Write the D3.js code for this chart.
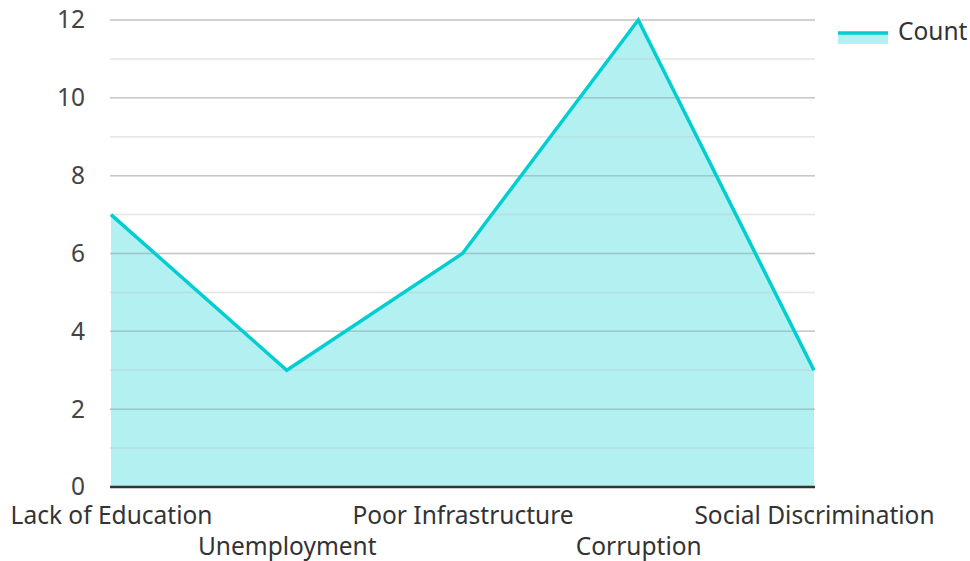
<!DOCTYPE html>
<html>
<head>
<meta charset="utf-8">
<script src="https://cdn.jsdelivr.net/npm/d3@7"></script>
<style>
  body { margin: 0; background: #fff; }
  svg { font-family: "Noto Sans", "Open Sans", sans-serif; }
</style>
</head>
<body>
<div id="chart"></div>
<script>
// Data
var categories = ['Lack of Education', 'Unemployment', 'Poor Infrastructure', 'Corruption', 'Social Discrimination']
var counts = [7, 3, 6, 12, 3]
var seriesName = 'Count'
var yTicks = [0, 2, 4, 6, 8, 10, 12]

var width = 970, height = 561
var margin = { top: 20, right: 156, bottom: 74, left: 111 }
var lineColor = '#00ced1'
var fontSize = 24.5

var svg = d3.select('#chart').append('svg')
  .attr('width', width)
  .attr('height', height)

var x = d3.scalePoint()
  .domain(categories)
  .range([margin.left, width - margin.right])

var y = d3.scaleLinear()
  .domain([0, 12])
  .range([height - margin.bottom, margin.top])

// Grid lines (minor every 1, major every 2)
var grid = svg.append('g')
grid.selectAll('line')
  .data(d3.range(1, 13))
  .enter().append('line')
  .attr('x1', margin.left - 1)
  .attr('x2', width - margin.right + 1)
  .attr('y1', function(d) { return y(d) })
  .attr('y2', function(d) { return y(d) })
  .attr('stroke', function(d) { return d % 2 === 0 ? '#c8c8c8' : '#e6e6e6' })
  .attr('stroke-width', 1.5)

var data = categories.map(function(c, i) { return { cat: c, value: counts[i] } })

// Area
var area = d3.area()
  .x(function(d) { return x(d.cat) })
  .y0(y(0))
  .y1(function(d) { return y(d.value) })

svg.append('path')
  .datum(data)
  .attr('d', area)
  .attr('fill', lineColor)
  .attr('fill-opacity', 0.3)

// Grid again over the fill (faint)
grid.clone(true).raise().attr('opacity', 0.35)

var line = d3.line()
  .x(function(d) { return x(d.cat) })
  .y(function(d) { return y(d.value) })

svg.append('path')
  .datum(data)
  .attr('d', line)
  .attr('fill', 'none')
  .attr('stroke', lineColor)
  .attr('stroke-width', 3.5)
  .attr('stroke-linejoin', 'miter')

// x axis, labels staggered on two rows
var xAxis = svg.append('g')
  .attr('transform', 'translate(0,' + y(0) + ')')
  .call(d3.axisBottom(x).tickSize(0).tickPadding(0))
xAxis.select('.domain')
  .attr('d', 'M' + (margin.left - 1) + ',0H' + (width - margin.right + 1))
  .attr('stroke', '#333')
  .attr('stroke-width', 2.5)
xAxis.selectAll('text')
  .attr('font-family', '"Noto Sans", "Open Sans", sans-serif')
  .attr('font-size', fontSize)
  .attr('fill', '#333')
  .attr('dy', null)
  .attr('y', function(d, i) { return i % 2 === 0 ? 37 : 68 })

// y axis
var yAxis = svg.append('g')
  .attr('transform', 'translate(' + margin.left + ',0)')
  .call(d3.axisLeft(y).tickValues(yTicks).tickSize(0).tickPadding(26))
yAxis.select('.domain').remove()
yAxis.selectAll('text')
  .attr('font-family', '"Noto Sans", "Open Sans", sans-serif')
  .attr('font-size', fontSize)
  .attr('fill', '#444')

// Legend
var legend = svg.append('g').attr('transform', 'translate(838,31)')
legend.append('rect')
  .attr('x', 0).attr('y', 2)
  .attr('width', 50).attr('height', 11)
  .attr('fill', lineColor).attr('fill-opacity', 0.3)
legend.append('line')
  .attr('x1', 0).attr('x2', 50)
  .attr('y1', 2).attr('y2', 2)
  .attr('stroke', lineColor).attr('stroke-width', 3.5)
legend.append('text')
  .attr('x', 60).attr('y', 0)
  .attr('dy', '0.35em')
  .attr('font-size', fontSize)
  .attr('fill', '#333')
  .text(seriesName)
</script>
</body>
</html>
